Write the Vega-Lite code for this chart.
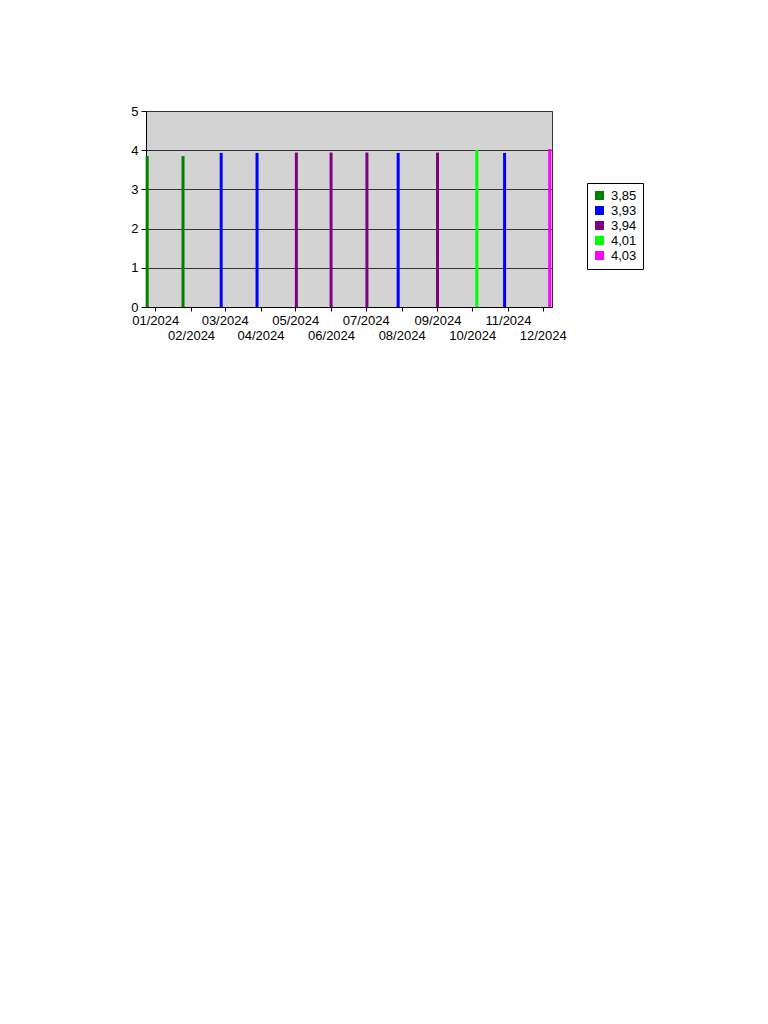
{
  "$schema": "https://vega.github.io/schema/vega-lite/v6.json",
  "autosize": {"type": "none"},
  "padding": {"left": 146, "top": 111, "right": 216, "bottom": 600},
  "width": 406,
  "height": 196,
  "background": "white",
  "data": {
    "values": [
      {"date": "2023-12-25", "mois": "01/2024", "valeur": 3.85, "label": "3,85"},
      {"date": "2024-01-25", "mois": "02/2024", "valeur": 3.85, "label": "3,85"},
      {"date": "2024-02-27", "mois": "03/2024", "valeur": 3.93, "label": "3,93"},
      {"date": "2024-03-29", "mois": "04/2024", "valeur": 3.93, "label": "3,93"},
      {"date": "2024-05-02", "mois": "05/2024", "valeur": 3.94, "label": "3,94"},
      {"date": "2024-06-01", "mois": "06/2024", "valeur": 3.94, "label": "3,94"},
      {"date": "2024-07-02", "mois": "07/2024", "valeur": 3.94, "label": "3,94"},
      {"date": "2024-07-29", "mois": "08/2024", "valeur": 3.93, "label": "3,93"},
      {"date": "2024-09-01", "mois": "09/2024", "valeur": 3.94, "label": "3,94"},
      {"date": "2024-10-05", "mois": "10/2024", "valeur": 4.01, "label": "4,01"},
      {"date": "2024-10-29", "mois": "11/2024", "valeur": 3.93, "label": "3,93"},
      {"date": "2024-12-07", "mois": "12/2024", "valeur": 4.03, "label": "4,03"}
    ]
  },
  "mark": {"type": "bar", "size": 3},
  "encoding": {
    "x": {
      "field": "date",
      "type": "temporal",
      "title": null,
      "scale": {
        "type": "utc",
        "nice": false,
        "padding": 0,
        "domain": [
          {"year": 2023, "month": 12, "date": 24, "utc": true},
          {"year": 2024, "month": 12, "date": 9, "utc": true}
        ]
      },
      "axis": {
        "tickCount": "month",
        "labelExpr": "utcFormat(datum.value, '%m/%Y')",
        "grid": false,
        "domainColor": "#000",
        "tickColor": "#000",
        "tickSize": 4,
        "labelColor": "#000",
        "labelFont": "Liberation Sans",
        "labelFontSize": 13,
        "labelOverlap": false,
        "labelFlush": false,
        "labelBound": false,
        "labelPadding": {"condition": {"test": "utcmonth(datum.value) % 2 == 1", "value": 18}, "value": 3.5}
      }
    },
    "y": {
      "field": "valeur",
      "type": "quantitative",
      "title": null,
      "scale": {"domain": [0, 5], "nice": false},
      "axis": {
        "values": [0, 1, 2, 3, 4, 5],
        "grid": true,
        "gridColor": "#333",
        "gridOpacity": 1,
        "domainColor": "#000",
        "tickColor": "#000",
        "tickSize": 5,
        "labelPadding": 3,
        "labelColor": "#000",
        "labelFont": "Liberation Sans",
        "labelFontSize": 13
      }
    },
    "color": {
      "field": "label",
      "type": "nominal",
      "scale": {
        "domain": ["3,85", "3,93", "3,94", "4,01", "4,03"],
        "range": ["#008000", "#0000ff", "#800080", "#00ff00", "#ff00ff"]
      },
      "legend": {
        "title": null,
        "orient": "none",
        "legendX": 441,
        "legendY": 72,
        "symbolType": "square",
        "symbolSize": 81,
        "symbolStrokeWidth": 0,
        "symbolOpacity": 1,
        "labelFont": "Liberation Sans",
        "labelFontSize": 13,
        "labelColor": "#000",
        "labelOffset": 5,
        "rowPadding": 1,
        "strokeColor": "#000",
        "padding": 6,
        "cornerRadius": 0
      }
    }
  },
  "config": {
    "view": {"fill": "#d3d3d3", "stroke": "#333", "strokeWidth": 1}
  }
}
